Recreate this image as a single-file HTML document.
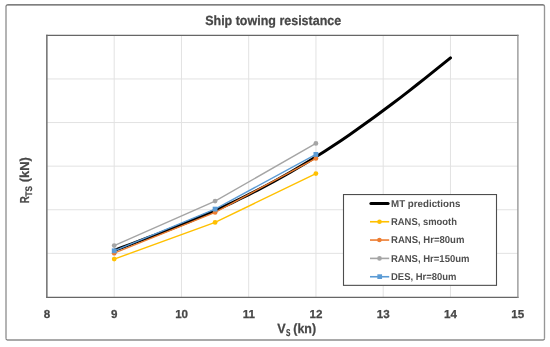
<!DOCTYPE html>
<html><head><meta charset="utf-8">
<style>
html,body{margin:0;padding:0;background:#fff;}
body{width:550px;height:347px;overflow:hidden;}
svg{display:block;}
text{font-family:"Liberation Sans",sans-serif;font-weight:bold;fill:#474747;stroke:#474747;stroke-width:0.25px;text-rendering:geometricPrecision;}
.lg text{stroke:none;fill:#4f4f4f;}
</style></head>
<body>
<svg width="550" height="347" viewBox="0 0 550 347">
<rect x="0" y="0" width="550" height="347" fill="#fff"/>
<!-- chart frame -->
<g fill="none" stroke-width="1.35">
<path d="M7.2 4.89H543.3" stroke="#555"/>
<path d="M6 6.2V338.6" stroke="#909090"/>
<path d="M7.2 340H543.3" stroke="#8d8d8d"/>
<path d="M544.5 6.2V338.6" stroke="#969696"/>
<path d="M6 6.4Q6 4.89 7.5 4.89M543 4.89Q544.5 4.89 544.5 6.4M544.5 338.5Q544.5 340 543 340M7.5 340Q6 340 6 338.5" stroke="#777" stroke-width="1.2"/>
</g>
<!-- gridlines -->
<g stroke="#e2e2e2" stroke-width="1" fill="none">
<path d="M47.1 78.95H517.7M47.1 122.55H517.7M47.1 166.15H517.7M47.1 209.75H517.7M47.1 253.35H517.7"/>
<path d="M114.2 35.3V297.1M181.45 35.3V297.1M248.7 35.3V297.1M315.95 35.3V297.1M383.2 35.3V297.1M450.45 35.3V297.1"/>
</g>
<!-- plot area border -->
<g fill="none">
<path d="M46.2 35.4H518.5" stroke="#666" stroke-width="1.3"/>
<path d="M46.2 297.35H518.5" stroke="#666" stroke-width="1.3"/>
<path d="M46.85 34.8V298" stroke="#6e6e6e" stroke-width="1.5"/>
<path d="M517.9 34.8V298" stroke="#888" stroke-width="1.2"/>
</g>
<!-- MT predictions -->
<polyline fill="none" stroke="#000" stroke-width="3" stroke-linecap="round" stroke-linejoin="round" points="114.2,250.39 122.6,247.23 131.0,244.07 139.4,240.92 147.8,237.75 156.2,234.55 164.6,231.31 173.1,228.02 181.5,224.67 189.9,221.25 198.3,217.74 206.7,214.15 215.1,210.46 223.5,206.67 231.9,202.77 240.3,198.76 248.7,194.62 257.1,190.36 265.5,185.97 273.9,181.45 282.4,176.79 290.8,172.00 299.2,167.07 307.6,162.01 316.0,156.81 324.4,151.47 332.8,146.00 341.2,140.40 349.6,134.67 358.0,128.82 366.4,122.84 374.8,116.75 383.2,110.55 391.6,104.24 400.1,97.84 408.5,91.35 416.9,84.78 425.3,78.13 433.7,71.42 442.1,64.66 450.5,57.86"/>
<!-- RANS smooth -->
<g stroke="#ffc000" fill="#ffc000">
<polyline fill="none" stroke-width="1.4" points="114.2,259.1 215.1,222.4 315.9,173.6"/>
<circle cx="114.2" cy="259.1" r="2.4" stroke="none"/><circle cx="215.1" cy="222.4" r="2.4" stroke="none"/><circle cx="315.9" cy="173.6" r="2.4" stroke="none"/>
</g>
<!-- RANS 80 -->
<g stroke="#ed7d31" fill="#ed7d31">
<polyline fill="none" stroke-width="1.4" points="114.2,253.2 215.1,212.4 315.9,158.4"/>
<circle cx="114.2" cy="253.2" r="2.4" stroke="none"/><circle cx="215.1" cy="212.4" r="2.4" stroke="none"/><circle cx="315.9" cy="158.4" r="2.4" stroke="none"/>
</g>
<!-- RANS 150 -->
<g stroke="#a5a5a5" fill="#a5a5a5">
<polyline fill="none" stroke-width="1.4" points="114.2,245.6 215.1,201.1 315.9,143.4"/>
<circle cx="114.2" cy="245.6" r="2.4" stroke="none"/><circle cx="215.1" cy="201.1" r="2.4" stroke="none"/><circle cx="315.9" cy="143.4" r="2.4" stroke="none"/>
</g>
<!-- DES -->
<g stroke="#5b9bd5" fill="#5b9bd5">
<polyline fill="none" stroke-width="1.4" points="114.2,250.8 215.1,209.1 315.9,154.4"/>
<rect x="111.8" y="248.4" width="4.8" height="4.8" stroke="none"/><rect x="212.7" y="206.7" width="4.8" height="4.8" stroke="none"/><rect x="313.5" y="152.0" width="4.8" height="4.8" stroke="none"/>
</g>
<!-- title -->
<text x="205.2" y="25" font-size="13.3" textLength="136" lengthAdjust="spacingAndGlyphs">Ship towing resistance</text>
<!-- x tick labels -->
<g font-size="11.6" text-anchor="middle">
<text x="47.1" y="317.5">8</text>
<text x="114.3" y="317.5">9</text>
<text x="181.6" y="317.5">10</text>
<text x="248.8" y="317.5">11</text>
<text x="316" y="317.5">12</text>
<text x="383.3" y="317.5">13</text>
<text x="450.5" y="317.5">14</text>
<text x="517.7" y="317.5">15</text>
</g>
<!-- x axis title -->
<text x="277.2" y="333.1" font-size="13.3" textLength="8.4" lengthAdjust="spacingAndGlyphs">V</text>
<text x="285.9" y="336.2" font-size="10" textLength="4.4" lengthAdjust="spacingAndGlyphs">S</text>
<text x="293.3" y="333.1" font-size="13.3" textLength="22.8" lengthAdjust="spacingAndGlyphs">(kn)</text>
<!-- y axis title -->
<g transform="translate(28.8,204) rotate(-90)">
<text x="0.8" y="0" font-size="13" textLength="7" lengthAdjust="spacingAndGlyphs">R</text>
<text x="7.6" y="2.8" font-size="9.5" textLength="10.5" lengthAdjust="spacingAndGlyphs">TS</text>
<text x="21.8" y="0" font-size="13" textLength="25" lengthAdjust="spacingAndGlyphs">(kN)</text>
</g>
<!-- legend -->
<rect x="343.5" y="194.55" width="153" height="90.8" fill="#fff" stroke="#4d4d4d" stroke-width="1.1"/>
<g font-size="10" class="lg">
<line x1="370.9" y1="203.4" x2="388.1" y2="203.4" stroke="#000" stroke-width="3" stroke-linecap="round"/>
<text x="391" y="206.8" textLength="69.4" lengthAdjust="spacingAndGlyphs">MT predictions</text>
<line x1="370" y1="221.75" x2="389.2" y2="221.75" stroke="#ffc000" stroke-width="1.6"/>
<circle cx="379.5" cy="221.75" r="2.3" fill="#ffc000"/>
<text x="391" y="225.1" textLength="65.9" lengthAdjust="spacingAndGlyphs">RANS, smooth</text>
<line x1="370" y1="240.05" x2="389.2" y2="240.05" stroke="#ed7d31" stroke-width="1.6"/>
<circle cx="379.4" cy="240.05" r="2.3" fill="#ed7d31"/>
<text x="391" y="243.4" textLength="73.4" lengthAdjust="spacingAndGlyphs">RANS, Hr=80um</text>
<line x1="370" y1="258.4" x2="389.2" y2="258.4" stroke="#a5a5a5" stroke-width="1.6"/>
<circle cx="379.5" cy="258.4" r="2.3" fill="#a5a5a5"/>
<text x="391" y="261.7" textLength="78.5" lengthAdjust="spacingAndGlyphs">RANS, Hr=150um</text>
<line x1="370" y1="276.75" x2="389.2" y2="276.75" stroke="#5b9bd5" stroke-width="1.6"/>
<rect x="377.35" y="274.3" width="4.7" height="4.7" fill="#5b9bd5"/>
<text x="391" y="280" textLength="65.4" lengthAdjust="spacingAndGlyphs">DES, Hr=80um</text>
</g>
</svg>
</body></html>
